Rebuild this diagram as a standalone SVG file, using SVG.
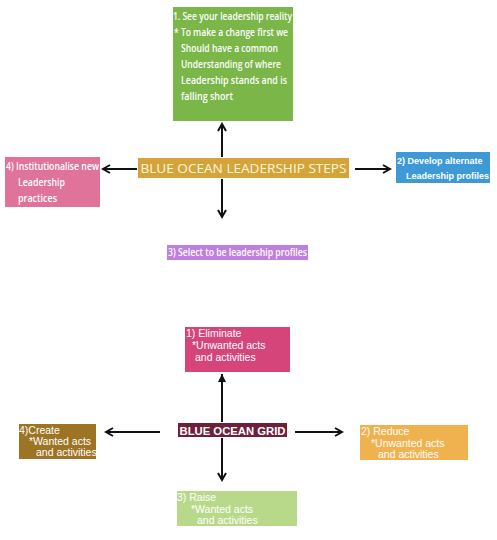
<svg xmlns="http://www.w3.org/2000/svg" width="497" height="540" viewBox="0 0 497 540">
<style>
.hw{font-family:"Open Sans","Liberation Sans",sans-serif;font-size:10.5px;fill:#fff;font-weight:600}
.ar{font-family:"Liberation Sans",Arial,sans-serif;font-size:10.5px;fill:#fff}
.bl{font-family:"Liberation Sans",Arial,sans-serif;font-size:9px;font-weight:bold;fill:#fff}
.ln{stroke:#111;stroke-width:2;fill:none}
</style>
<defs>
<marker id="ah" markerWidth="10" markerHeight="10" refX="8" refY="5" orient="auto" markerUnits="userSpaceOnUse">
<path d="M1,1 L8,5 L1,9" fill="none" stroke="#111" stroke-width="2"/>
</marker>
<marker id="tri" markerWidth="10" markerHeight="10" refX="8" refY="5" orient="auto" markerUnits="userSpaceOnUse">
<path d="M0,1 L8,5 L0,9 Z" fill="#111"/>
</marker>
</defs>
<rect width="497" height="540" fill="#fff"/>
<g id="connectors">
<line class="ln" x1="222" y1="157" x2="222" y2="124" marker-end="url(#ah)"/>
<line class="ln" x1="222" y1="179" x2="222" y2="217" marker-end="url(#ah)"/>
<line class="ln" x1="137" y1="169" x2="103" y2="169" marker-end="url(#ah)"/>
<line class="ln" x1="355" y1="169" x2="390" y2="169" marker-end="url(#ah)"/>
<line class="ln" x1="222" y1="422" x2="222" y2="374" marker-end="url(#tri)"/>
<line class="ln" x1="222" y1="438" x2="222" y2="480" marker-end="url(#ah)"/>
<line class="ln" x1="160" y1="432" x2="106" y2="432" marker-end="url(#ah)"/>
<line class="ln" x1="295" y1="432" x2="342" y2="432" marker-end="url(#ah)"/>
</g>
<g id="step1">
<rect x="173" y="7" width="120" height="114" fill="#7ab648"/>
<text class="hw" x="173" y="20" textLength="119" lengthAdjust="spacingAndGlyphs">1. See your leadership reality</text>
<text class="hw" x="174" y="36" textLength="114" lengthAdjust="spacingAndGlyphs">* To make a change first we</text>
<text class="hw" x="181" y="52" textLength="97" lengthAdjust="spacingAndGlyphs">Should have a common</text>
<text class="hw" x="181" y="68" textLength="100" lengthAdjust="spacingAndGlyphs">Understanding of where</text>
<text class="hw" x="181" y="84" textLength="106" lengthAdjust="spacingAndGlyphs">Leadership stands and is</text>
<text class="hw" x="181" y="100" textLength="52" lengthAdjust="spacingAndGlyphs">falling short</text>
</g>
<g id="title1">
<rect x="138" y="158" width="211" height="20" fill="#d4a43a"/>
<text x="243.5" y="173" text-anchor="middle" font-family="'Open Sans','Liberation Sans',sans-serif" font-size="13" fill="#fff6dc" textLength="206" lengthAdjust="spacingAndGlyphs">BLUE OCEAN LEADERSHIP STEPS</text>
</g>
<g id="step4">
<rect x="5" y="157" width="95" height="50" fill="#e0739a"/>
<text class="hw" x="6" y="170" textLength="93" lengthAdjust="spacingAndGlyphs">4) Institutionalise new</text>
<text class="hw" x="18" y="186" textLength="47" lengthAdjust="spacingAndGlyphs">Leadership</text>
<text class="hw" x="18" y="202" textLength="39" lengthAdjust="spacingAndGlyphs">practices</text>
</g>
<g id="step2">
<rect x="396" y="152" width="94" height="31" fill="#3d9ad6"/>
<text class="bl" x="397" y="164">2) Develop alternate</text>
<text class="bl" x="406" y="179">Leadership profiles</text>
</g>
<g id="step3">
<rect x="167" y="245" width="141" height="15" fill="#c07fe0"/>
<text class="hw" x="168" y="256" textLength="139" lengthAdjust="spacingAndGlyphs">3) Select to be leadership profiles</text>
</g>
<g id="eliminate">
<rect x="185" y="327" width="105" height="45" fill="#d6457a"/>
<text class="ar" x="186" y="337">1) Eliminate</text>
<text class="ar" x="192" y="349">*Unwanted acts</text>
<text class="ar" x="195" y="361">and activities</text>
</g>
<g id="title2">
<rect x="178" y="423" width="109" height="14" fill="#6e1f3a"/>
<text x="232.5" y="434.5" text-anchor="middle" font-family="'Liberation Sans',Arial,sans-serif" font-size="11" font-weight="bold" fill="#fff" textLength="106" lengthAdjust="spacingAndGlyphs">BLUE OCEAN GRID</text>
</g>
<g id="create">
<rect x="19" y="424" width="77" height="35" fill="#9c7424"/>
<text class="ar" x="19" y="434">4)Create</text>
<text class="ar" x="29" y="445">*Wanted acts</text>
<text class="ar" x="36" y="456">and activities</text>
</g>
<g id="reduce">
<rect x="360" y="425" width="108" height="35" fill="#f0b14f"/>
<text class="ar" x="361" y="435">2) Reduce</text>
<text class="ar" x="371" y="447">*Unwanted acts</text>
<text class="ar" x="378" y="458">and activities</text>
</g>
<g id="raise">
<rect x="177" y="491" width="120" height="35" fill="#b8d98a"/>
<text class="ar" x="177" y="501">3) Raise</text>
<text class="ar" x="191" y="513">*Wanted acts</text>
<text class="ar" x="197" y="524">and activities</text>
</g>
</svg>
